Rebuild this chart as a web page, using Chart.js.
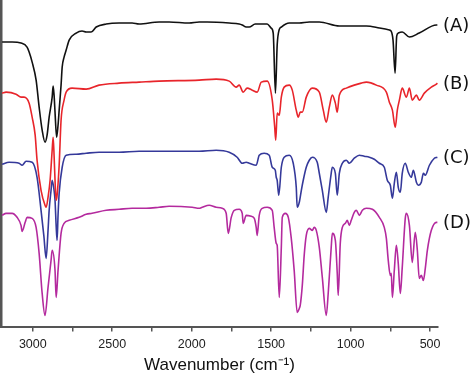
<!DOCTYPE html>
<html>
<head>
<meta charset="utf-8">
<script src="https://cdn.jsdelivr.net/npm/chart.js@4"></script>
<style>
  html, body { margin: 0; padding: 0; background: #fff; }
  #wrap { width: 474px; height: 374px; }
</style>
</head>
<body>
<div id="wrap"><canvas id="irChart" width="474" height="374"></canvas></div>
<script>
// FTIR spectra, [wavenumber, relative transmittance (arb. units, stacked)]
const seriesNames = ["(A)", "(B)", "(C)", "(D)"];
const seriesColors = ["#111111", "#e8252b", "#35399a", "#b42a9e"];
const xTickLabels = [3000, 2500, 2000, 1500, 1000, 500];
const xTickMarks = [3000, 2750, 2500, 2250, 2000, 1750, 1500, 1250, 1000, 750, 500];

const spectrumA = [
  [3193,284],[3130,284],[3074,283],[3036,279],[3023,274],[3004,264],[2979,246],[2960,219],
  [2941,196],[2923,184],[2910,191],[2897,209],[2878,229],[2872,240],[2866,231],[2860,214],
  [2850,189],[2841,201],[2834,216],[2822,241],[2815,259],[2803,269],[2790,276],[2771,286],
  [2727,293],[2690,295],[2664,294],[2633,294],[2601,299],[2538,302],[2457,303],[2375,303],
  [2331,302],[2205,304],[2142,304],[2016,303],[1953,304],[1902,304],[1764,303],[1701,302],
  [1682,301],[1657,299],[1638,299],[1600,302],[1525,302],[1500,298],[1487,293],[1473,233],
  [1462,281],[1450,296],[1436,299],[1386,303],[1323,303],[1260,304],[1197,304],[1071,300],
  [901,300],[819,298],[756,296],[745,295],[733,286],[720,253],[710,290],[700,293],
  [675,294],[630,289],[568,293],[460,301],[454,301]
];

const spectrumB = [
  [3193,233],[3168,234],[3105,232],[3074,229],[3055,229],[3023,223],[3004,209],[2985,191],
  [2973,166],[2948,136],[2923,121],[2916,119],[2904,129],[2891,146],[2878,176],[2872,189],
  [2866,171],[2860,146],[2853,126],[2847,131],[2834,161],[2822,206],[2803,226],[2790,234],
  [2753,238],[2664,237],[2583,241],[2457,243],[2331,244],[2205,245],[1953,246],[1846,247],
  [1764,245],[1720,239],[1701,241],[1676,234],[1651,238],[1619,236],[1588,234],[1562,244],
  [1525,245],[1493,226],[1478,200],[1471,186],[1462,213],[1449,211],[1436,229],[1418,239],
  [1386,241],[1367,236],[1342,216],[1329,209],[1317,214],[1304,214],[1279,229],[1241,238],
  [1197,234],[1172,216],[1153,204],[1134,219],[1115,231],[1096,223],[1084,214],[1071,231],
  [1027,238],[977,241],[933,243],[901,244],[838,241],[775,234],[756,224],[737,216],
  [719,199],[706,216],[693,226],[675,238],[649,229],[630,238],[612,226],[586,231],
  [568,226],[536,233],[492,239],[460,242],[454,243]
];

const spectrumC = [
  [3193,162],[3149,164],[3086,163],[3067,161],[3042,165],[3004,164],[2973,149],[2948,116],
  [2930,90],[2916,68],[2904,96],[2897,116],[2885,136],[2878,146],[2866,136],[2860,126],
  [2853,101],[2847,86],[2841,111],[2834,133],[2815,159],[2790,171],[2727,172],[2664,173],
  [2583,174],[2457,174],[2331,175],[2205,175],[1953,175],[1846,176],[1764,174],[1714,169],
  [1682,163],[1657,164],[1638,163],[1594,161],[1575,171],[1544,173],[1512,171],[1493,159],
  [1474,156],[1468,149],[1462,146],[1452,131],[1436,159],[1418,169],[1386,171],[1361,163],
  [1342,139],[1336,119],[1323,124],[1310,136],[1298,146],[1279,159],[1260,166],[1241,169],
  [1210,164],[1197,153],[1178,136],[1153,114],[1141,129],[1122,153],[1115,159],[1096,153],
  [1084,131],[1071,153],[1052,163],[1027,166],[1008,163],[977,168],[945,171],[914,170],
  [882,169],[851,167],[819,163],[788,159],[769,146],[750,141],[737,128],[725,143],
  [712,154],[700,139],[687,134],[675,153],[656,163],[637,154],[618,149],[605,156],
  [586,144],[574,141],[555,144],[542,153],[530,151],[504,161],[473,168],[454,169]
];

const spectrumD = [
  [3193,111],[3168,113],[3130,113],[3099,109],[3074,101],[3067,95],[3048,104],[3036,109],
  [3004,108],[2979,99],[2960,73],[2941,33],[2923,11],[2904,39],[2885,66],[2878,76],
  [2860,56],[2853,29],[2841,56],[2822,93],[2803,103],[2771,106],[2708,109],[2664,112],
  [2627,113],[2538,116],[2457,117],[2375,118],[2287,118],[2205,119],[2142,120],[1997,119],
  [1953,118],[1934,119],[1890,121],[1846,119],[1808,118],[1783,113],[1770,93],[1751,109],
  [1732,116],[1701,117],[1682,113],[1676,103],[1657,111],[1625,110],[1606,108],[1594,99],
  [1588,91],[1575,111],[1556,118],[1525,119],[1493,116],[1481,99],[1468,83],[1462,81],
  [1449,29],[1436,79],[1430,109],[1411,113],[1392,109],[1374,89],[1355,56],[1336,14],
  [1323,18],[1317,21],[1304,41],[1292,71],[1279,91],[1260,98],[1241,96],[1229,99],
  [1216,96],[1197,79],[1178,49],[1153,11],[1141,33],[1122,79],[1115,93],[1096,86],
  [1084,53],[1078,31],[1065,83],[1052,99],[1033,103],[1021,106],[1008,101],[996,106],
  [977,114],[964,116],[945,111],[926,116],[901,118],[863,117],[819,109],[788,99],
  [775,88],[763,66],[750,51],[744,53],[737,29],[725,56],[712,81],[700,63],
  [687,33],[675,59],[656,108],[649,113],[630,101],[612,64],[593,94],[580,76],
  [568,48],[555,51],[542,46],[530,58],[517,76],[492,96],[460,104],[454,104]
];

const spectra = [spectrumA, spectrumB, spectrumC, spectrumD];

// puts (A)..(D) right of the plot, level with each curve's last point
const curveLabels = {
  id: "curveLabels",
  afterDatasetsDraw(chart) {
    const ctx = chart.ctx;
    const yScale = chart.scales.y;
    ctx.save();
    ctx.font = '18px "DejaVu Sans"';
    ctx.fillStyle = "#111";
    ctx.textBaseline = "middle";
    chart.data.datasets.forEach((ds, i) => {
      const last = ds.data[ds.data.length - 1];
      ctx.fillText(seriesNames[i], chart.chartArea.right + 5, yScale.getPixelForValue(last.y) + 1);
    });
    ctx.restore();
  }
};

const ctx = document.getElementById("irChart").getContext("2d");
new Chart(ctx, {
  type: "line",
  data: {
    datasets: spectra.map((s, i) => ({
      label: seriesNames[i],
      data: s.map(p => ({ x: p[0], y: p[1] })),
      borderColor: seriesColors[i],
      borderWidth: 1.6,
      pointRadius: 0,
      cubicInterpolationMode: "monotone",
      fill: false,
      clip: false
    }))
  },
  options: {
    responsive: false,
    animation: false,
    layout: { padding: { left: 1, right: 36, top: 0, bottom: 0 } },
    plugins: {
      legend: { display: false },
      tooltip: { enabled: false }
    },
    scales: {
      x: {
        type: "linear",
        reverse: true,
        min: 450,
        max: 3200,
        afterBuildTicks: scale => {
          scale.ticks = xTickMarks.map(v => ({ value: v }));
        },
        border: { color: "#555", width: 2 },
        grid: { drawOnChartArea: false, drawTicks: true, tickLength: 5, color: "#555", lineWidth: 1.5 },
        ticks: {
          autoSkip: false,
          maxRotation: 0,
          padding: 6.5,
          color: "#222",
          font: { family: '"Liberation Sans", Arial, sans-serif', size: 12.5, lineHeight: 1 },
          callback: v => (xTickLabels.includes(v) ? String(v) : "")
        },
        title: {
          display: true,
          text: "Wavenumber (cm⁻¹)",
          color: "#111",
          font: { family: '"Liberation Sans", Arial, sans-serif', size: 17, lineHeight: 1 },
          padding: { top: 0, bottom: 0 }
        }
      },
      y: {
        min: 0,
        max: 326,
        border: { color: "#555", width: 2.5 },
        grid: { display: false, drawTicks: false },
        ticks: { display: false }
      }
    }
  },
  plugins: [curveLabels]
});
</script>
</body>
</html>
